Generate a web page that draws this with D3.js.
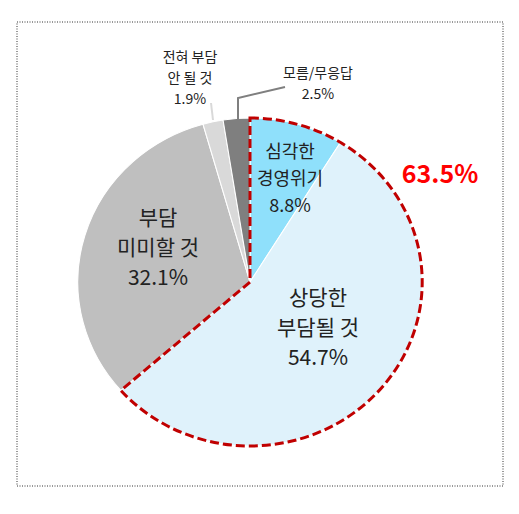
<!DOCTYPE html>
<html><head><meta charset="utf-8">
<script src="https://cdn.jsdelivr.net/npm/d3@7"></script>
<style>body{margin:0;background:#fff}</style>
</head><body><svg></svg>
<script>
width = 519;
height = 514;

let labels = ["심각한 경영위기", "상당한 부담될 것", "부담 미미할 것", "전혀 부담 안 될 것", "모름/무응답"];
let values = [8.8, 54.7, 32.1, 1.9, 2.5];
let colors = ["#8fe0fb", "#dff2fb", "#bfbfbf", "#d9d9d9", "#7f7f7f"];

let svg = d3.select("svg").attr("width", width).attr("height", height);
let font = "'Noto Sans CJK KR', sans-serif";

svg.append("rect")
    .attr("x", 17).attr("y", 22).attr("width", 486).attr("height", 464)
    .style("fill", "none").style("stroke", "#333").style("stroke-width", 1)
    .style("stroke-dasharray", "1,1.5");

let cx = 250, cy = 282, r = 164;
let pie = d3.pie().sort(null).value(d => d);
let arcs = pie(values);
let arc = d3.arc().innerRadius(0).outerRadius(r);

let g = svg.append("g").attr("transform", "translate(" + cx + "," + cy + ") scale(1.05,1)");

g.selectAll("path.slice").data(arcs).enter().append("path")
    .attr("class", "slice")
    .attr("d", arc)
    .style("fill", (d, i) => colors[i])
    .style("stroke", "#fff").style("stroke-width", 1);

// red dashed outline of first two slices
g.append("path")
    .attr("d", arc({startAngle: arcs[0].startAngle, endAngle: arcs[1].endAngle}))
    .style("fill", "none").style("stroke", "#c00000").style("stroke-width", 3)
    .style("stroke-dasharray", "9,4")
    .attr("vector-effect", "non-scaling-stroke");

// leader lines
svg.append("path").attr("d", "M213,120 L211,103")
    .style("stroke", "#d9d9d9").style("stroke-width", 2).style("fill", "none");
svg.append("path").attr("d", "M238,120 L238,98 L285,87")
    .style("stroke", "#7f7f7f").style("stroke-width", 2).style("fill", "none");

function text(lines, x, y, size, dy, color, weight) {
    lines.forEach((t, i) => {
        svg.append("text").attr("x", x).attr("y", y + i * dy)
            .attr("text-anchor", "middle")
            .style("font-family", font).style("font-size", size + "px")
            .style("fill", color || "#222").style("font-weight", weight || "normal")
            .text(t);
    });
}

text(["심각한", "경영위기", values[0] + "%"], 290, 158, 18, 27);
text(["상당한", "부담될 것", values[1] + "%"], 318, 305, 21, 30);
text(["부담", "미미할 것", values[2] + "%"], 158, 225, 21, 30);
text(["전혀 부담", "안 될 것", values[3] + "%"], 190, 62, 14, 21);
text(["모름/무응답", values[4] + "%"], 318, 78, 14, 21);
text(["63.5%"], 440, 183, 25, 0, "#ff0000", "bold");
</script>
</body></html>
